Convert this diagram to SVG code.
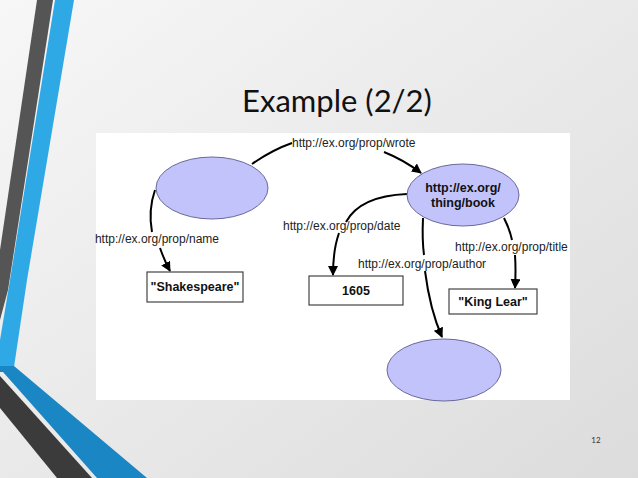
<svg xmlns="http://www.w3.org/2000/svg" width="638" height="478" viewBox="0 0 638 478">
<defs>
<linearGradient id="bg" x1="0" y1="0" x2="1" y2="1"><stop offset="0" stop-color="#f7f7f7"/><stop offset="1" stop-color="#dcdcdc"/></linearGradient>
<marker id="ah" viewBox="0 0 10 10" refX="9" refY="5" markerWidth="5" markerHeight="5" orient="auto"><path d="M0,0 L10,5 L0,10 z" fill="#000"/></marker>
<clipPath id="panel"><rect x="95" y="133" width="476" height="268"/></clipPath>
</defs>
<style>
.lbl{font-family:"Liberation Sans",Arial,sans-serif;font-size:12px;fill:#222}
.node{fill:#c3c3fb;stroke:#6a6a9a;stroke-width:1}
.box{fill:#fff;stroke:#444;stroke-width:1.2}
.bt{font-family:"Liberation Sans",Arial,sans-serif;font-size:12.5px;font-weight:bold;fill:#111;text-anchor:middle}
.e{fill:none;stroke:#000;stroke-width:2}
</style>
<rect width="638" height="478" fill="url(#bg)"/>
<polygon points="37,0 53,0 8,290 0,320 0,250" fill="#555"/>
<polygon points="55,0 74,0 27,280 14,367 0,367 0,340 10,280" fill="#2fa8e6"/>
<polygon points="0,366 14,366 147,478 97,478 3,372 0,372" fill="#1a86c4"/>
<polygon points="0,376 92,478 57,478 0,408" fill="#3b3b3b"/>
<rect x="96" y="133" width="474" height="267" fill="#fff"/>
<text x="337" y="112" font-family="Lato,'Open Sans',sans-serif" font-size="31" fill="#111" text-anchor="middle">Example (2/2)</text>
<text x="596" y="443" font-family="Lato,sans-serif" font-size="8" fill="#333" text-anchor="middle">12</text>
<g id="connectors" clip-path="url(#panel)">
<path class="e" d="M252,164 Q272,150 292,143"/>
<path class="e" d="M384,152 Q404,160 421,173" marker-end="url(#ah)"/>
<text class="lbl" x="292" y="147">http://ex.org/prop/wrote</text>
<path class="e" d="M155,190 Q148,210 152,232"/>
<path class="e" d="M160,248 Q165,262 170,271" marker-end="url(#ah)"/>
<text class="lbl" x="219" y="243" text-anchor="end">http://ex.org/prop/name</text>
<path class="e" d="M407,194 Q360,196 346,222"/>
<path class="e" d="M339,233 Q333,250 333,275" marker-end="url(#ah)"/>
<text class="lbl" x="283" y="230">http://ex.org/prop/date</text>
<path class="e" d="M423,218 Q422,240 424,255"/>
<path class="e" d="M425,271 Q430,310 442,337" marker-end="url(#ah)"/>
<text class="lbl" x="358" y="268">http://ex.org/prop/author</text>
<path class="e" d="M504,218 Q510,230 512,240"/>
<path class="e" d="M515,255 Q516,270 515,288" marker-end="url(#ah)"/>
<text class="lbl" x="455" y="251">http://ex.org/prop/title</text>
</g>
<g id="n1"><ellipse class="node" cx="212" cy="188" rx="56" ry="31"/></g>
<g id="book"><ellipse class="node" cx="463" cy="195" rx="56" ry="31"/>
<text class="bt" x="463" y="192">http://ex.org/</text><text class="bt" x="463" y="207">thing/book</text></g>
<g id="n3"><ellipse class="node" cx="444" cy="370" rx="57" ry="31"/></g>
<g id="shakespeare"><rect class="box" x="147" y="272" width="96" height="30"/><text class="bt" x="195" y="291">"Shakespeare"</text></g>
<g id="year"><rect class="box" x="309" y="276" width="94" height="29"/><text class="bt" x="356" y="295">1605</text></g>
<g id="kinglear"><rect class="box" x="449" y="289" width="88" height="25"/><text class="bt" x="493" y="306">"King Lear"</text></g>
</svg>
